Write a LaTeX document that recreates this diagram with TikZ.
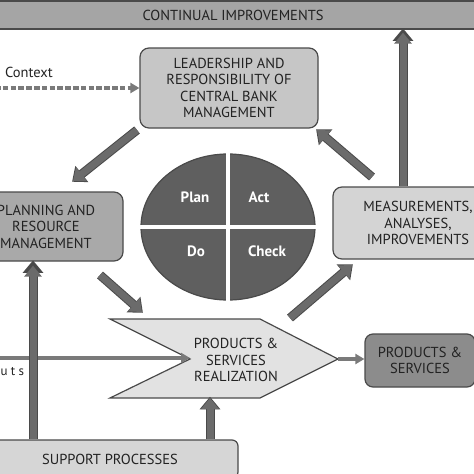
\documentclass[tikz,border=0pt]{standalone}
\usepackage{fontspec}
\setmainfont{PT Sans}
\newfontfamily\spacedfont[LetterSpace=25]{PT Sans}
\usetikzlibrary{arrows.meta}
\usetikzlibrary{shapes.geometric}
\definecolor{bargray}{HTML}{A5A5A5}
\definecolor{leadgray}{HTML}{C6C6C6}
\definecolor{plangray}{HTML}{A9A9A9}
\definecolor{measgray}{HTML}{D4D4D4}
\definecolor{realgray}{HTML}{E2E2E2}
\definecolor{prodgray}{HTML}{8C8C8C}
\definecolor{suppgray}{HTML}{D6D6D6}
\definecolor{cyclegray}{HTML}{5F5F5F}
\definecolor{arrowgray}{HTML}{6B6B6B}
\definecolor{edgegray}{HTML}{4A4A4A}
\definecolor{linegray}{HTML}{7A7A7A}
\definecolor{textgray}{HTML}{222222}

\begin{document}
\begin{tikzpicture}[x=1pt, y=-1pt, line width=1.2pt,
    box/.style={draw=edgegray, rounded corners=9pt, align=center, text=textgray,
      font=\fontsize{14.5}{16.5}\selectfont, inner sep=0pt},
    quarter/.style={text=white, font=\fontsize{15}{17}\selectfont\bfseries},
    blockarrow/.style={draw=arrowgray, line width=7pt, -{Triangle[width=17pt,length=11pt]},
      preaction={draw=edgegray, line width=9pt, shorten >=-1.2pt, -{Triangle[width=20pt,length=12.5pt]}}},
    flowline/.style={draw=linegray, line width=3.5pt, -{Triangle[width=10pt,length=9pt]}}]

    \useasboundingbox (0,0) rectangle (474,474);
    \clip (0,0) rectangle (474,474);

    % boxes
    \node [box, rounded corners=0pt, fill=bargray, minimum width=520pt, minimum height=28pt] (improve) at (233,15) {CONTINUAL IMPROVEMENTS};
    \node [box, fill=leadgray, minimum width=178pt, minimum height=80pt] (lead) at (229,88) {LEADERSHIP AND\\RESPONSIBILITY OF\\CENTRAL BANK\\MANAGEMENT};
    \node [box, fill=plangray, minimum width=154pt, minimum height=69pt] (planning) at (46,226.5) {PLANNING AND\\RESOURCE\\MANAGEMENT};
    \node [box, fill=measgray, minimum width=170pt, minimum height=72pt] (measure) at (418,223) {MEASUREMENTS,\\ANALYSES,\\IMPROVEMENTS};
    \node [box, fill=prodgray, rounded corners=8pt, minimum width=110pt, minimum height=53pt] (prodserv) at (420,360.5) {PRODUCTS \&\\SERVICES};
    \node [box, fill=suppgray, rounded corners=6pt, minimum width=256pt, minimum height=38pt] (support) at (110,459) {SUPPORT PROCESSES};

    % realization
    \draw [draw=edgegray, fill=realgray] (110,319) -- (260,319) -- (338,359) -- (260,398) -- (110,398) -- (190,359) -- cycle;
    \coordinate (notch) at (190,359);
    \coordinate (tip) at (338,359);
    \coordinate (realbot) at (210,398);
    \node [box, draw=none] (real) at (236,360) {PRODUCTS \&\\SERVICES\\REALIZATION};

    % PDCA
    \node [ellipse, draw=edgegray, fill=cyclegray, minimum width=174pt, minimum height=146pt, inner sep=0pt] (pdca) at (228,227) {};
    \draw [white, line width=4.5pt, shorten <=-2pt, shorten >=-2pt] (pdca.north) -- (pdca.south);
    \draw [white, line width=4.5pt, shorten <=-2pt, shorten >=-2pt] (pdca.west) -- (pdca.east);
    \node [quarter] (plan-q) at (195,197) {Plan};
    \node [quarter] (act-q) at (259,197) {Act};
    \node [quarter] (do-q) at (196,251) {Do};
    \node [quarter] (check-q) at (267,251) {Check};

    % context and inputs
    \node [text=textgray, font=\fontsize{14.5}{16}\selectfont] (context) at (29,72) {Context};
    \coordinate (ctx) at (-5,88);
    \draw [linegray, line width=3.5pt, dash pattern=on 5.5pt off 2.3pt, -{Triangle[width=10pt,length=9pt]}] (ctx) -- (lead.west |- ctx);
    \node [text=textgray, font=\fontsize{13}{14}\spacedfont, anchor=east] (inputs) at (28,372) {Inputs};
    \coordinate (inp) at (-5,358);
    \draw [flowline] (inp) -- (notch |- inp);
    \draw [flowline] (tip) -- (prodserv.west |- tip);

    % block arrows
    \coordinate (lx) at (33,0);
    \coordinate (sx) at (210,0);
    \coordinate (rx) at (403,0);
    \draw [blockarrow, shorten >=4pt] (support.north -| lx) -- (planning.south -| lx);
    \draw [blockarrow] (support.north -| sx) -- (realbot);
    \draw [blockarrow, shorten >=3pt] (measure.north -| rx) -- (improve.south -| rx);

    \coordinate (a1s) at (137,130);
    \coordinate (a1e) at (73,181);
    \coordinate (a2s) at (100,275);
    \coordinate (a2e) at (142,312);
    \coordinate (a3s) at (290,318);
    \coordinate (a3e) at (352,265);
    \coordinate (a4s) at (372,177);
    \coordinate (a4e) at (317,130);
    \draw [blockarrow] (a1s) -- (a1e);
    \draw [blockarrow] (a2s) -- (a2e);
    \draw [blockarrow] (a3s) -- (a3e);
    \draw [blockarrow] (a4s) -- (a4e);

\end{tikzpicture}
\end{document}
